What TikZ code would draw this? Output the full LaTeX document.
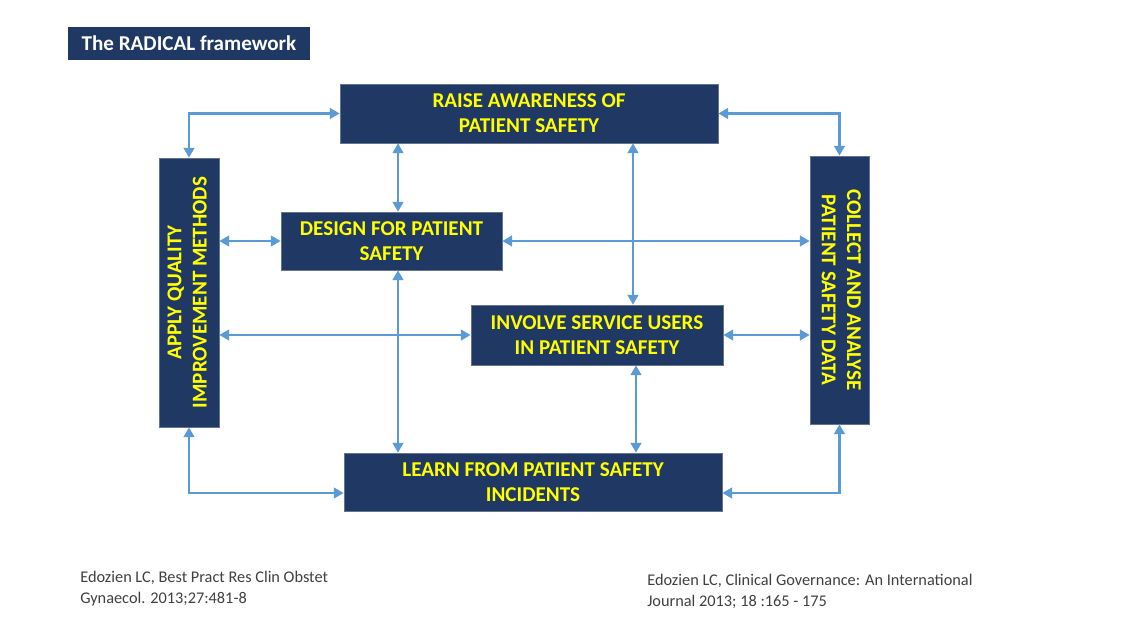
\documentclass[tikz,border=0pt]{standalone}
\usepackage{fontspec}
\setmainfont{Carlito}
\usepackage{graphicx}
\usetikzlibrary{arrows.meta}

\definecolor{navy}{RGB}{31,56,100}
\definecolor{freccia}{RGB}{91,155,213}
\definecolor{giallo}{RGB}{255,255,0}
\definecolor{grigio}{RGB}{64,64,64}

\tikzset{
  box/.style={fill=navy, draw=navy!70!white, line width=0.4pt, text=giallo,
    font=\fontsize{15}{17.8}\selectfont\bfseries, align=center, inner sep=0pt},
  link/.style={draw=freccia, line width=1.8pt,
    {Triangle[length=7pt,width=7.5pt]}-{Triangle[length=7pt,width=7.5pt]}},
  nota/.style={text=grigio, font=\fontsize{11.6}{15}\selectfont, align=left,
    anchor=north west, inner sep=0pt}
}

\newcommand{\verticale}[3]{\rotatebox{#1}{\begin{tabular}{@{}c@{}}#2\\#3\end{tabular}}}

\begin{document}
\begin{tikzpicture}[x=0.025cm, y=-0.025cm]

        \useasboundingbox[fill=white] (0,0) rectangle (1134,638);

        % Titolo
        \node[fill=navy, text=white, font=\fontsize{15}{18}\selectfont\bfseries,
          minimum width=6.05cm, minimum height=0.825cm, inner sep=0pt]
          (titolo) at (189,43.5) {The RADICAL framework};

        % Riquadri
        \node[box, minimum width=9.45cm, minimum height=1.475cm] (raise) at (529,113.5)
          {RAISE AWARENESS OF\\PATIENT SAFETY};
        \node[box, minimum width=1.5cm, minimum height=6.725cm] (apply) at (189,292.5)
          {\verticale{90}{APPLY QUALITY}{IMPROVEMENT METHODS}};
        \node[box, minimum width=1.475cm, minimum height=6.7cm] (collect) at (839.5,290)
          {\verticale{-90}{COLLECT AND ANALYSE}{PATIENT SAFETY DATA}};
        \node[box, minimum width=5.525cm, minimum height=1.45cm] (design) at (391.5,241)
          {DESIGN FOR PATIENT\\SAFETY};
        \node[box, minimum width=6.3cm, minimum height=1.5cm] (involve) at (597,335)
          {INVOLVE SERVICE USERS\\IN PATIENT SAFETY};
        \node[box, minimum width=9.45cm, minimum height=1.45cm] (learn) at (533,482)
          {LEARN FROM PATIENT SAFETY\\INCIDENTS};

        % Frecce agli angoli
        \draw[link] (raise.west) -| (apply.north);
        \draw[link] (raise.east) -| (collect.north);
        \draw[link] (apply.south) |- (learn.west |- 0,493);
        \draw[link] (collect.south) |- (learn.east |- 0,493);

        % Frecce interne
        \draw[link] (raise.south -| 398,0) -- (design.north -| 398,0);
        \draw[link] (raise.south -| 633,0) -- (involve.north -| 633,0);
        \draw[link] (apply.east |- design.west) -- (design.west);
        \draw[link] (design.east) -- (design.east -| collect.west);
        \draw[link] (apply.east |- involve.west) -- (involve.west);
        \draw[link] (involve.east) -- (involve.east -| collect.west);
        \draw[link] (design.south -| 398,0) -- (learn.north -| 398,0);
        \draw[link] (involve.south -| 636,0) -- (learn.north -| 636,0);

        % Riferimenti
        \node[nota] (ref1) at (80,571) {Edozien LC, Best Pract Res Clin Obstet\\Gynaecol. 2013;27:481-8};
        \node[nota] (ref2) at (647,574) {Edozien LC, Clinical Governance: An International\\Journal 2013; 18 :165 - 175};

        \end{tikzpicture}
\end{document}
